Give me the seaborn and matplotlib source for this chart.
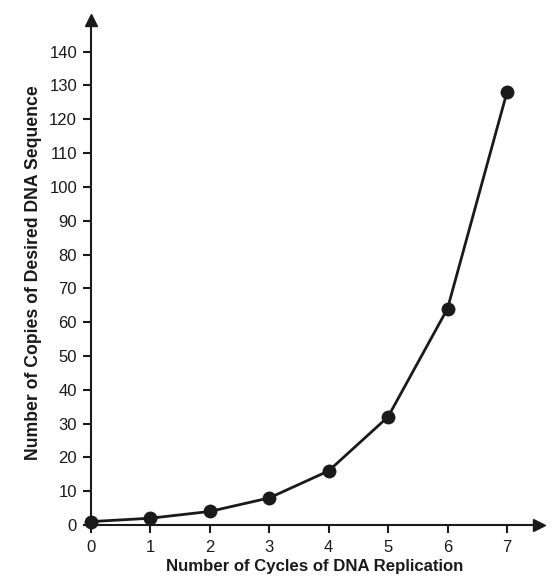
import pandas as pd
import seaborn as sns
import matplotlib.pyplot as plt

ciclos = [0, 1, 2, 3, 4, 5, 6, 7]
copias = [1, 2, 4, 8, 16, 32, 64, 128]
ticks_y = list(range(0, 141, 10))

tabela = pd.DataFrame({"ciclos": ciclos, "copias": copias})

sns.set_style("ticks")
plt.rcParams['font.family'] = ['Liberation Sans', 'DejaVu Sans']

fig = plt.figure(figsize=(5.58, 5.85), dpi=100)
ax = fig.add_axes([0.163, 0.1026, 0.803, 0.8634])

sns.lineplot(data=tabela, x="ciclos", y="copias", ax=ax, color="#1a1a1a",
             linewidth=2, marker="o", markersize=10, markeredgewidth=0,
             clip_on=False)

ax.set_xlim(0, 7.54)
ax.set_ylim(0, 149.4)
ax.set_xticks(ciclos)
ax.set_yticks(ticks_y)
ax.tick_params(axis="both", labelsize=12, length=6, width=1.5,
               color="#1a1a1a", labelcolor="#1a1a1a")
ax.tick_params(axis="x", pad=5)
ax.tick_params(axis="y", pad=4)

for lado in ["top", "right"]:
    ax.spines[lado].set_visible(False)
for lado in ["left", "bottom"]:
    ax.spines[lado].set_linewidth(1.5)
    ax.spines[lado].set_color("#1a1a1a")

# setas nas pontas dos eixos
ax.plot(1, 0, ">", color="#1a1a1a", markersize=8, transform=ax.get_yaxis_transform(), clip_on=False)
ax.plot(0, 1, "^", color="#1a1a1a", markersize=8, transform=ax.get_xaxis_transform(), clip_on=False)

ax.set_xlabel("Number of Cycles of DNA Replication", fontsize=12.1, fontweight="bold",
              color="#1a1a1a", labelpad=3)
ax.set_ylabel("Number of Copies of Desired DNA Sequence", fontsize=12.7, fontweight="bold",
              color="#1a1a1a", labelpad=5)

fig.savefig("out.png", dpi=100)
